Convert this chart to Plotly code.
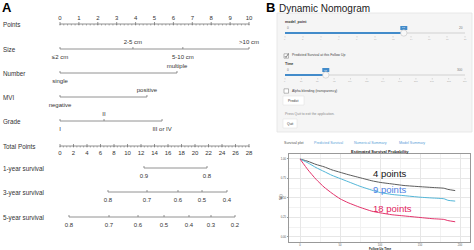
import plotly.graph_objects as go

W, H = 474, 250
FONT = "Liberation Sans, Arial, sans-serif"

# ---------------- Panel A data (nomogram) ----------------
point_ticks = list(range(0, 11))
size_levels = ["≤2 cm", "2-5 cm", "5-10 cm", ">10 cm"]
size_points = [0, 3.86, 6.5, 10]
number_levels = ["single", "multiple"]
number_points = [0, 6.19]
mvi_levels = ["negative", "positive"]
mvi_points = [0, 4.6]
grade_levels = ["I", "II", "III or IV"]
grade_points = [0, 2.33, 5.4]
total_ticks = list(range(0, 29, 2))
surv1_labels = ["0.9", "0.8"]
surv1_total = [12.44, 21.78]
surv3_labels = ["0.8", "0.7", "0.6", "0.5", "0.4"]
surv3_total = [7.11, 12.89, 17.48, 21.04, 24.74]
surv5_labels = ["0.8", "0.7", "0.6", "0.5", "0.4", "0.3", "0.2"]
surv5_total = [1.33, 7.26, 11.56, 15.41, 19.11, 22.37, 25.93]
POINTS_TO_TOTAL = 2.8

# ---------------- Panel B data (survival curves) ----------------
follow_time = [0, 10, 20, 30, 40, 50, 60, 75, 90, 100, 115, 130, 150, 165, 180, 185, 194]
surv_4pts = [1.0, 0.97, 0.93, 0.90, 0.86, 0.83, 0.80, 0.76, 0.72, 0.70, 0.68, 0.66, 0.645, 0.635, 0.625, 0.61, 0.595]
surv_9pts = [1.0, 0.95, 0.89, 0.84, 0.79, 0.75, 0.71, 0.65, 0.60, 0.57, 0.545, 0.53, 0.51, 0.50, 0.49, 0.47, 0.46]
surv_18pts = [1.0, 0.86, 0.74, 0.64, 0.56, 0.49, 0.44, 0.38, 0.33, 0.31, 0.285, 0.27, 0.25, 0.235, 0.225, 0.21, 0.195]
curve_names = ["4 points", "9 points", "18 points"]
slider1_min, slider1_max, slider1_value = 0, 20, 13.2
slider2_min, slider2_max, slider2_value = 0, 300, 68
tab_names = ["Survival plot", "Predicted Survival", "Numerical Summary", "Model Summary"]

# ---------------- layout helpers ----------------
TXT = "#333333"
LINE = "#777777"

def PX(x):
    return x / W

def PY(y):
    return 1 - y / H

fig = go.Figure()

def seg_trace(xs, ys, color=LINE, width=0.8, xa="x", ya="y"):
    fig.add_trace(go.Scatter(x=xs, y=ys, mode="lines", line=dict(color=color, width=width),
                             hoverinfo="skip", showlegend=False, xaxis=xa, yaxis=ya,
                             cliponaxis=False))

def ticks(xs, y, up, down, width=0.8):
    tx, ty = [], []
    for x in xs:
        tx += [x, x, None]
        ty += [y - up, y + down, None]
    seg_trace(tx, ty, width=width)

def texts(xs, ys, labels, size=6, color=TXT):
    fig.add_trace(go.Scatter(x=xs, y=ys, mode="text", text=labels,
                             textposition="middle center",
                             textfont=dict(size=size, color=color, family=FONT),
                             hoverinfo="skip", showlegend=False, cliponaxis=False))

row_names = ["Points", "Size", "Number", "MVI", "Grade", "Total Points",
             "1-year survival", "3-year survival", "5-year survival"]
row_y = [24, 49, 73, 97, 121, 146, 168, 192, 217]
LABEL_X = -8.45

# row labels
fig.add_trace(go.Scatter(x=[LABEL_X] * len(row_names), y=[y + 1 for y in row_y], mode="text",
                         text=row_names, textposition="middle right",
                         textfont=dict(size=6.3, color=TXT, family=FONT),
                         hoverinfo="skip", showlegend=False, cliponaxis=False))

# Points axis
pt_total = [p * POINTS_TO_TOTAL for p in point_ticks]
y0 = row_y[0]
seg_trace([pt_total[0], pt_total[-1]], [y0, y0])
ticks(pt_total, y0, 2, 1)
minor = [i * 0.2 * POINTS_TO_TOTAL for i in range(0, 51)]
ticks(minor, y0, 0, 1.5, width=0.6)
texts(pt_total, [y0 - 6] * len(pt_total), [str(p) for p in point_ticks])

# categorical rows
def cat_row(levels, pts, y, above_flags):
    xs = [p * POINTS_TO_TOTAL for p in pts]
    seg_trace([min(xs), max(xs)], [y, y])
    ticks(xs, y, 2, 0)
    for x, lab, ab in zip(xs, levels, above_flags):
        texts([x], [y - 7 if ab else y + 8], [lab])

cat_row(size_levels, size_points, row_y[1], [False, True, False, True])
cat_row(number_levels, number_points, row_y[2], [False, True])
cat_row(mvi_levels, mvi_points, row_y[3], [False, True])
cat_row(grade_levels, grade_points, row_y[4], [False, True, False])

# Total points axis
yt = row_y[5]
seg_trace([total_ticks[0], total_ticks[-1]], [yt, yt])
ticks(total_ticks, yt, 2, 1)
ticks([i * 0.5 for i in range(0, 57)], yt, 0, 1.5, width=0.6)
texts(total_ticks, [yt + 7] * len(total_ticks), [str(t) for t in total_ticks])

# survival rows
for labs, pos, y in [(surv1_labels, surv1_total, row_y[6]),
                     (surv3_labels, surv3_total, row_y[7]),
                     (surv5_labels, surv5_total, row_y[8])]:
    seg_trace([min(pos), max(pos)], [y, y])
    ticks(pos, y, 2, 0)
    texts(pos, [y + 8] * len(pos), labs)

# ---------------- Panel B survival curves ----------------
curve_colors = ["#5c5c5c", "#52b6d8", "#e3336b"]
for vals, col, nm in zip([surv_4pts, surv_9pts, surv_18pts], curve_colors, curve_names):
    fig.add_trace(go.Scatter(x=follow_time, y=vals, mode="lines", line=dict(color=col, width=1, shape="spline", smoothing=0.4),
                             name=nm, showlegend=False, hoverinfo="skip", xaxis="x2", yaxis="y2"))

label_colors = ["#111111", "#4f7fe6", "#e3245e"]
label_pos = [(112, 0.82), (112, 0.615), (116, 0.37)]
annotations = []
for nm, col, (tx, sy) in zip(curve_names, label_colors, label_pos):
    annotations.append(dict(x=tx, y=sy, xref="x2", yref="y2", text=nm, showarrow=False,
                            font=dict(size=9.5, color=col, family=FONT)))

# panel letters and headings
annotations += [
    dict(x=PX(0), y=PY(7), xref="paper", yref="paper", text="<b>A</b>", showarrow=False,
         xanchor="left", yanchor="middle", font=dict(size=13, color="#000", family=FONT)),
    dict(x=PX(264), y=PY(7), xref="paper", yref="paper", text="<b>B</b>", showarrow=False,
         xanchor="left", yanchor="middle", font=dict(size=13, color="#000", family=FONT)),
    dict(x=PX(277), y=PY(8), xref="paper", yref="paper", text="Dynamic Nomogram", showarrow=False,
         xanchor="left", yanchor="middle", font=dict(size=10, color="#222", family=FONT)),
    dict(x=PX(380), y=PY(151), xref="paper", yref="paper", text="<b>Estimated Survival Probability</b>",
         showarrow=False, xanchor="center", yanchor="middle", font=dict(size=4, color="#222", family=FONT)),
    dict(x=PX(380), y=PY(248.6), xref="paper", yref="paper", text="<b>Follow Up Time</b>",
         showarrow=False, xanchor="center", yanchor="middle", font=dict(size=3, color="#222", family=FONT)),
    dict(x=PX(281), y=PY(197), xref="paper", yref="paper", text="S(t)", textangle=-90,
         showarrow=False, xanchor="center", yanchor="middle", font=dict(size=3.5, color="#222", family=FONT)),
]

shapes = []
SMALL = 3.6

def small_text(x, y, t, size=SMALL, color="#555", bold=False, anchor="left"):
    annotations.append(dict(x=PX(x), y=PY(y), xref="paper", yref="paper",
                            text=("<b>%s</b>" % t) if bold else t, showarrow=False,
                            xanchor=anchor, yanchor="middle",
                            font=dict(size=size, color=color, family=FONT)))

def rect(x0, y0, x1, y1, fill, line="rgba(0,0,0,0)", lw=0.6, layer="above"):
    shapes.append(dict(type="rect", xref="paper", yref="paper", x0=PX(x0), x1=PX(x1),
                       y0=PY(y1), y1=PY(y0), fillcolor=fill, line=dict(color=line, width=lw), layer=layer))

# gray well panel
rect(277, 13, 472, 132, "#f5f5f5", "#e3e3e3", 0.8, layer="below")

def slider(label, y_label, y_track, vmin, vmax, val, nt):
    xl, xr = 285, 465
    small_text(283, y_label, label, size=3.6, color="#333", bold=True)
    small_text(285, y_track - 5, str(vmin), size=3.2, color="#777")
    small_text(465, y_track - 5, str(vmax), size=3.2, color="#777", anchor="right")
    hx = xl + (val - vmin) / (vmax - vmin) * (xr - xl)
    rect(xl, y_track - 0.8, xr, y_track + 0.8, "#dcdcdc")
    rect(xl, y_track - 1.1, hx, y_track + 1.1, "#428bca")
    for i in range(nt):
        tx = xl + i * (xr - xl) / (nt - 1)
        shapes.append(dict(type="line", xref="paper", yref="paper", x0=PX(tx), x1=PX(tx),
                           y0=PY(y_track + 3), y1=PY(y_track + 4.5), line=dict(color="#bbb", width=0.5)))
        small_text(tx, y_track + 6, str(round(vmin + i * (vmax - vmin) / (nt - 1))), size=2.2,
                   color="#aaa", anchor="center")
    rect(hx - 3.5, y_track - 7, hx + 3.5, y_track - 3, "#428bca")
    small_text(hx, y_track - 5, str(round(val)), size=2.5, color="#fff", anchor="center")
    shapes.append(dict(type="circle", xref="paper", yref="paper", x0=PX(hx - 3.2), x1=PX(hx + 3.2),
                       y0=PY(y_track + 3.2), y1=PY(y_track - 3.2), fillcolor="#f8f8f8",
                       line=dict(color="#c4c4c4", width=0.6)))

slider("model_point", 22, 33, slider1_min, slider1_max, slider1_value, 11)

def checkbox(y, label, checked):
    rect(284, y - 2.2, 288.5, y + 2.2, "#ffffff", "#777", 0.5)
    if checked:
        shapes.append(dict(type="path", xref="paper", yref="paper",
                           path="M %f %f L %f %f L %f %f" % (PX(284.8), PY(y), PX(286), PY(y + 1.5), PX(288.5), PY(y - 2.5)),
                           line=dict(color="#333", width=0.6)))
    small_text(290, y - 0.5, label, size=3.4, color="#444")

checkbox(56, "Predicted Survival at this Follow Up", True)
slider("Time", 64, 75, slider2_min, slider2_max, slider2_value, 12)
checkbox(91, "Alpha blending (transparency)", False)

rect(283, 96, 304, 105, "#ffffff", "#dddddd", 0.5)
small_text(293.5, 100.5, "Predict", size=3.4, color="#333", anchor="center")
small_text(283, 114, "Press Quit to exit the application.", size=3.4, color="#888")
rect(283, 119, 297, 128, "#ffffff", "#dddddd", 0.5)
small_text(290, 123.5, "Quit", size=3.4, color="#333", anchor="center")

tab_x = [282, 312, 352, 397]
tab_cols = ["#555", "#5aa0d8", "#5aa0d8", "#5aa0d8"]
for tx, tn, tc in zip(tab_x, tab_names, tab_cols):
    small_text(tx, 143, tn, size=3.6, color=tc)

axis_hidden = dict(visible=False, showgrid=False, zeroline=False)

fig.update_layout(
    width=W, height=H, margin=dict(l=0, r=0, t=0, b=0),
    paper_bgcolor="white", plot_bgcolor="rgba(0,0,0,0)",
    xaxis=dict(domain=[0, 1], range=[-60 / 6.75, (W - 60) / 6.75], **axis_hidden),
    yaxis=dict(domain=[0, 1], range=[H, 0], **axis_hidden),
    xaxis2=dict(domain=[PX(289), PX(470)], anchor="y2", range=[-13.75, 212.5],
                tickvals=[0, 50, 100, 150, 200], tickfont=dict(size=2.6, color="#555", family=FONT),
                showgrid=True, gridcolor="#e6e6e6", gridwidth=0.5, zeroline=False,
                showline=True, mirror=True, linecolor="#999", linewidth=0.6,
                ticks="outside", ticklen=1, tickcolor="#999",
                minor=dict(tickvals=[25, 75, 125, 175], showgrid=True, gridcolor="#f2f2f2", gridwidth=0.4)),
    yaxis2=dict(domain=[PY(241.5), PY(154)], anchor="x2", range=[-0.058, 1.064],
                tickvals=[0, 0.25, 0.5, 0.75, 1.0], ticktext=["0.00", "0.25", "0.50", "0.75", "1.00"],
                tickfont=dict(size=2.8, color="#555", family=FONT),
                showgrid=True, gridcolor="#e6e6e6", gridwidth=0.5, zeroline=False,
                showline=True, mirror=True, linecolor="#999", linewidth=0.6,
                ticks="outside", ticklen=1.5, tickcolor="#999",
                minor=dict(tickvals=[0.125, 0.375, 0.625, 0.875], showgrid=True, gridcolor="#f2f2f2", gridwidth=0.4)),
    annotations=annotations, shapes=shapes,
)

fig.write_html("out.html")
